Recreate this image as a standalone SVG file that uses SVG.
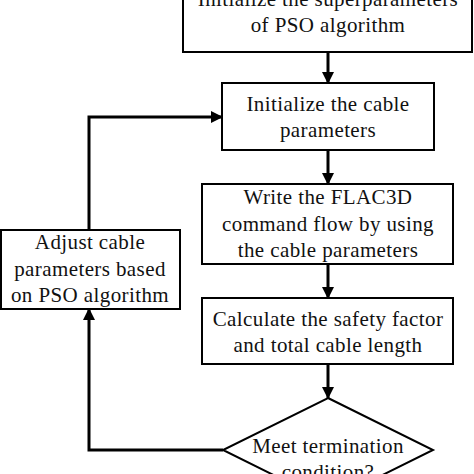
<svg xmlns="http://www.w3.org/2000/svg" width="474" height="474" viewBox="0 0 474 474">
<style>
.box{fill:#fff;stroke:#000;stroke-width:2}
.t{font-family:"Liberation Serif","Times New Roman",serif;font-size:21px;letter-spacing:0.4px;fill:#111;text-anchor:middle}
.c{fill:none;stroke:#000;stroke-width:3}
</style>
<defs>
<marker id="ah" markerWidth="12" markerHeight="12" viewBox="0 0 12 12" refX="11" refY="6" orient="auto" markerUnits="userSpaceOnUse">
<path d="M0,0 L12,6 L0,12 Z" fill="#000"/>
</marker>
</defs>
<rect width="474" height="474" fill="#fff"/>
<g id="connectors">
<line class="c" x1="328" y1="52" x2="328" y2="83" marker-end="url(#ah)"/>
<line class="c" x1="328" y1="150" x2="328" y2="184" marker-end="url(#ah)"/>
<line class="c" x1="328" y1="264" x2="328" y2="298" marker-end="url(#ah)"/>
<line class="c" x1="328" y1="364" x2="328" y2="398" marker-end="url(#ah)"/>
<polyline class="c" points="223,450 89,450 89,309" marker-end="url(#ah)"/>
<polyline class="c" points="89,230 89,117 222,117" marker-end="url(#ah)"/>
</g>
<g id="n1">
<rect class="box" x="183" y="-10" width="289" height="62"/>
<text class="t" x="328" y="6">Initialize the superparameters</text>
<text class="t" x="328" y="32">of PSO algorithm</text>
</g>
<g id="n2">
<rect class="box" x="222" y="83" width="212" height="67"/>
<text class="t" x="328" y="111">Initialize the cable</text>
<text class="t" x="328" y="137">parameters</text>
</g>
<g id="n3">
<rect class="box" x="202" y="184" width="251" height="80"/>
<text class="t" x="328" y="204">Write the FLAC3D</text>
<text class="t" x="328" y="231">command flow by using</text>
<text class="t" x="328" y="257">the cable parameters</text>
</g>
<g id="n4">
<rect class="box" x="202" y="298" width="251" height="66"/>
<text class="t" x="328" y="326">Calculate the safety factor</text>
<text class="t" x="328" y="352">and total cable length</text>
</g>
<g id="n5">
<polygon class="box" points="328,398 433,450 328,502 223,450"/>
<text class="t" x="328" y="453">Meet termination</text>
<text class="t" x="328" y="479">condition?</text>
</g>
<g id="n6">
<rect class="box" x="1" y="230" width="179" height="79"/>
<text class="t" x="90" y="249">Adjust cable</text>
<text class="t" x="90" y="276">parameters based</text>
<text class="t" x="90" y="302">on PSO algorithm</text>
</g>
</svg>
